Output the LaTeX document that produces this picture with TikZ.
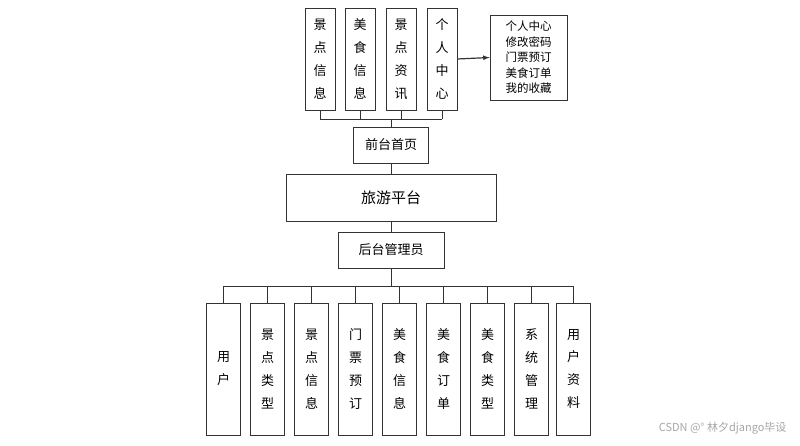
\documentclass[tikz,border=0pt]{standalone}
\usepackage{fontspec}
\setmainfont{Noto Sans CJK SC}
\begin{document}
\begin{tikzpicture}[x=1pt,y=-1pt,
  bx/.style={draw,thick,draw=black!80,inner sep=0pt,align=center,font=\fontsize{13}{23}\selectfont},
  ln/.style={draw=black!80,thick}]
\useasboundingbox (0,0) rectangle (800,445);
% top boxes
\node[bx,minimum width=30,minimum height=102] (t1) at (320,59) {景\\点\\信\\息};
\node[bx,minimum width=30,minimum height=102] (t2) at (360,59) {美\\食\\信\\息};
\node[bx,minimum width=30,minimum height=102] (t3) at (401,59) {景\\点\\资\\讯};
\node[bx,minimum width=30,minimum height=102] (t4) at (442,59) {个\\人\\中\\心};
\node[draw,thick,draw=black!80,minimum width=77,minimum height=85,align=left,inner sep=3pt,font=\fontsize{11.5}{15.5}\selectfont] (r) at (528.5,57.5) {个人中心\\修改密码\\门票预订\\美食订单\\我的收藏};
\draw[ln,-latex,very thick] (t4.east) -- (r.west);
\node[bx,minimum width=75,minimum height=36] (q) at (391,145) {前台首页};
\node[bx,minimum width=210,minimum height=47,font=\fontsize{15}{18}\selectfont] (p) at (391,197.5) {旅游平台};
\node[bx,minimum width=106,minimum height=36] (h) at (391,250) {后台管理员};
\coordinate (j1) at (391,119);
\foreach \n in {t1,t2,t3,t4}{\draw[ln] (\n.south) -- (\n.south |- j1);}
\draw[ln] (t1.south |- j1) -- (t4.south |- j1);
\draw[ln] (j1) -- (q.north);
\draw[ln] (q.south) -- (p.north);
\draw[ln] (p.south) -- (h.north);
% bottom
\coordinate (j2) at (391,286);
\draw[ln] (h.south) -- (j2);
\foreach \i/\x/\t in {1/223.5/用\\户, 2/267.5/景\\点\\类\\型, 3/311.5/景\\点\\信\\息, 4/355.5/门\\票\\预\\订, 5/399.5/美\\食\\信\\息, 6/443.5/美\\食\\订\\单, 7/487.5/美\\食\\类\\型, 8/531.5/系\\统\\管\\理, 9/573.5/用\\户\\资\\料}{
  \node[bx,minimum width=34,minimum height=132] (b\i) at (\x,369) {\t};
  \draw[ln] (b\i.north) -- (b\i.north |- j2);
}
\draw[ln] (b1.north |- j2) -- (b9.north |- j2);
\node[text=black!35,font=\fontsize{11}{13}\selectfont,anchor=east] (w) at (790,428) {CSDN @° 林夕django毕设};
\end{tikzpicture}
\end{document}
